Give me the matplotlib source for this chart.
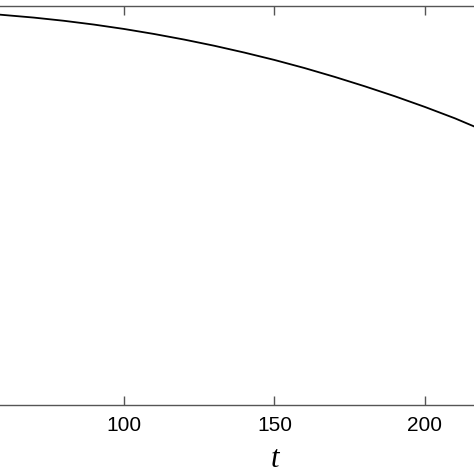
import numpy as np
import matplotlib.pyplot as plt

# values (y axis has no labels, kept on a 0..1 scale)
t = [58.8, 70, 80, 90, 100, 110, 120, 130, 140, 150, 160, 170, 180, 190, 200, 210, 216.3]
y = [0.9782, 0.9709, 0.9629, 0.9534, 0.9424, 0.9298, 0.9158, 0.9003, 0.8832,
     0.8647, 0.8444, 0.8223, 0.7987, 0.7737, 0.7469, 0.7183, 0.6982]
xticks = [100, 150, 200]

fig = plt.figure(figsize=(4.74, 4.74), dpi=100)
# axes wider than the figure on purpose: reference is a crop
ax = fig.add_axes([0, 0.1456, 1, 0.8418])
ax.plot(t, y, color='black', linewidth=1.3)

ax.set_xlim(58.8, 216.3)
ax.set_ylim(0, 1)
ax.set_xticks(xticks)
ax.set_yticks([])

for side in ['left', 'right']:
    ax.spines[side].set_visible(False)
for side in ['top', 'bottom']:
    ax.spines[side].set_color('#555555')
    ax.spines[side].set_linewidth(1.0)

ax.tick_params(axis='x', direction='in', length=6.5, width=1.0, color='#555555',
               top=True, bottom=True, pad=8, labelsize=15)
for lab in ax.get_xticklabels():
    lab.set_fontfamily('Liberation Sans')

ax.set_xlabel('t', fontfamily='Liberation Serif', fontstyle='italic', fontsize=22)
ax.xaxis.set_label_coords(0.58, -0.1)

fig.savefig('out.png', dpi=100)
